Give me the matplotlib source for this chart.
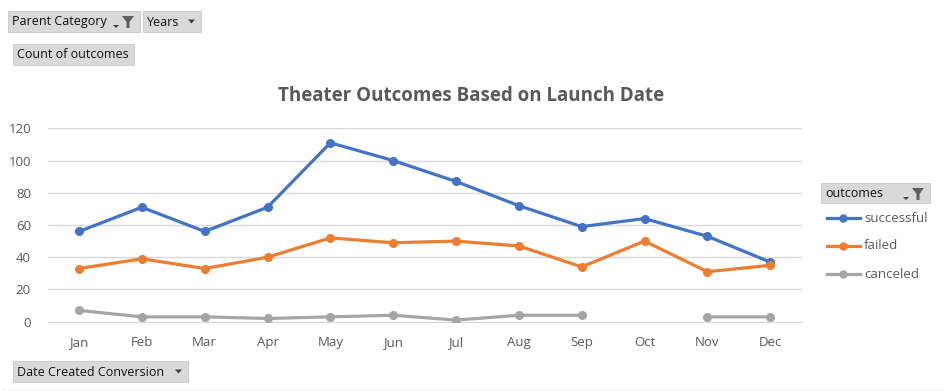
import matplotlib
matplotlib.use("Agg")
import matplotlib.pyplot as plt
import numpy as np
from matplotlib.patches import Rectangle, Polygon
from matplotlib.lines import Line2D

months = ["Jan", "Feb", "Mar", "Apr", "May", "Jun", "Jul", "Aug", "Sep", "Oct", "Nov", "Dec"]
successful = [56, 71, 56, 71, 111, 100, 87, 72, 59, 64, 53, 37]
failed = [33, 39, 33, 40, 52, 49, 50, 47, 34, 50, 31, 35]
canceled = [7, 3, 3, 2, 3, 4, 1, 4, 4, np.nan, 3, 3]
series_names = ["successful", "failed", "canceled"]
colors = ["#4472C4", "#ED7D31", "#A5A5A5"]
yticks = [0, 20, 40, 60, 80, 100, 120]

W, H = 945, 391
plt.rcParams['font.family'] = ['Open Sans', 'DejaVu Sans']
fig = plt.figure(figsize=(W / 100, H / 100), dpi=100)

def fx(x):
    return x / W

def fy(y):
    return 1 - y / H

# outer border
fig.add_artist(Rectangle((fx(0.5), fy(390.5)), fx(944), 1 - fy(1) - (1 - fy(390)) + 0, fill=False,
                         edgecolor="#BFBFBF", linewidth=1, transform=fig.transFigure))

ax = fig.add_axes([fx(47.6), fy(321.7), fx(801.6) - fx(47.6), fy(128.3) - fy(321.7)])
x = np.arange(len(months))
for vals, name, c in zip([successful, failed, canceled], series_names, colors):
    ax.plot(x, vals, color=c, linewidth=2.3, marker="o", markersize=5.5, label=name,
            solid_capstyle="round", zorder=3)

ax.set_xlim(-0.5, len(months) - 0.5)
ax.set_ylim(0, 120)
ax.set_yticks(yticks)
ax.set_xticks(x)
ax.set_xticklabels(months)
ax.grid(axis="y", color="#D9D9D9", linewidth=1)
ax.set_axisbelow(True)
for s in ["top", "right", "left"]:
    ax.spines[s].set_visible(False)
ax.spines["bottom"].set_color("#D9D9D9")
ax.tick_params(axis="both", length=0, labelsize=9.5, colors="#595959", pad=10)
ax.tick_params(axis="y", pad=12)
for lab in ax.get_yticklabels():
    lab.set_color("#595959")

fig.text(fx(471), fy(96), "Theater Outcomes Based on Launch Date", ha="center", va="center",
         fontsize=13.5, fontweight="bold", color="#595959")

def button(x0, y0, x1, y1, text, arrow=False, funnel=False, bold=False):
    fig.add_artist(Rectangle((fx(x0), fy(y1)), fx(x1) - fx(x0), fy(y0) - fy(y1),
                             facecolor="#D9D9D9", edgecolor="#C8C8C8", linewidth=0.6,
                             transform=fig.transFigure))
    fig.text(fx(x0 + 4), fy((y0 + y1) / 2 + 0.5), text, ha="left", va="center",
             fontsize=9, color="#111111")
    if funnel:
        fx0 = x1 - 18
        fig.add_artist(Polygon([(fx(fx0 - 9), fy(y0 + 14)), (fx(fx0 - 3), fy(y0 + 14)),
                                (fx(fx0 - 6), fy(y0 + 17))], closed=True, facecolor="#404040",
                               edgecolor="none", transform=fig.transFigure))
        fig.add_artist(Polygon([(fx(fx0), fy(y0 + 5)), (fx(fx0 + 12), fy(y0 + 5)),
                                (fx(fx0 + 7.5), fy(y0 + 11)), (fx(fx0 + 7.5), fy(y0 + 17)),
                                (fx(fx0 + 4.5), fy(y0 + 17)), (fx(fx0 + 4.5), fy(y0 + 11))],
                               closed=True, facecolor="#606060", edgecolor="none",
                               transform=fig.transFigure))
    if arrow:
        ax0 = x1 - 13
        cy = (y0 + y1) / 2
        fig.add_artist(Polygon([(fx(ax0), fy(cy - 2)), (fx(ax0 + 7), fy(cy - 2)),
                                (fx(ax0 + 3.5), fy(cy + 2))], closed=True, facecolor="#404040",
                               edgecolor="none", transform=fig.transFigure))

button(8, 11, 140, 32, "Parent Category", funnel=True)
button(143, 11, 201, 32, "Years", arrow=True)
button(13, 44, 134, 65, "Count of outcomes")
button(13, 361, 188, 382, "Date Created Conversion", arrow=True)
button(821, 183, 930, 203, "outcomes", funnel=True)

# legend entries
for i, (name, c) in enumerate(zip(series_names, colors)):
    yy = 218 + i * 28
    fig.add_artist(Line2D([fx(827), fx(860)], [fy(yy), fy(yy)], color=c, linewidth=2.3,
                          transform=fig.transFigure))
    fig.add_artist(Line2D([fx(843.5)], [fy(yy)], color=c, marker="o", markersize=5,
                          transform=fig.transFigure))
    fig.text(fx(864), fy(yy), name, ha="left", va="center", fontsize=9.5, color="#595959")

fig.savefig("out.png", dpi=100)
